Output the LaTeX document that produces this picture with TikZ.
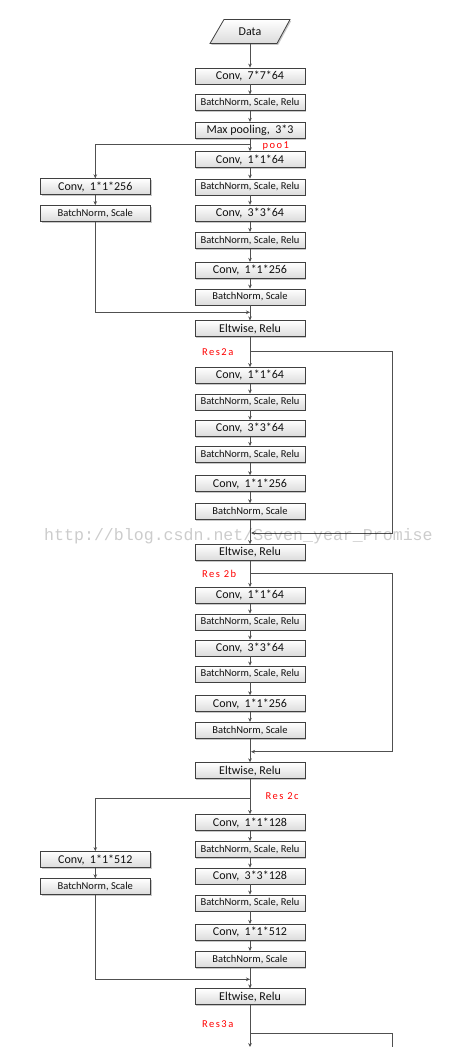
\documentclass[tikz,border=0pt]{standalone}
\usepackage{fontspec}
\usepackage{graphicx}
\setmainfont{Carlito}
\newfontfamily\redfont[LetterSpace=14]{Carlito}
\newfontfamily\wmfont{Liberation Mono}
\usetikzlibrary{arrows.meta,shadows}
\definecolor{linec}{HTML}{505050}
\definecolor{boxline}{HTML}{404040}
\definecolor{txt}{HTML}{111111}
\tikzset{
  blk/.style={draw=boxline, line width=0.8pt, top color=white, bottom color=black!14,
    minimum width=110pt, minimum height=16pt, inner sep=0pt, text=txt,
    drop shadow={shadow xshift=1.3pt, shadow yshift=-1.3pt, fill=black!30, opacity=0.7}},
  bigb/.style={blk, font=\fontsize{12}{14}\selectfont},
  smallb/.style={blk, font=\fontsize{10.5}{12}\selectfont},
  arr/.style={draw=linec, line width=0.8pt, -{Stealth[length=4pt,width=3.6pt]}},
  ln/.style={draw=linec, line width=0.8pt},
  lbl/.style={text=red, inner sep=0pt, anchor=west, font=\redfont\fontsize{10.5}{12}\selectfont}
}
\begin{document}
\begin{tikzpicture}[x=1pt,y=-1pt]
\path[use as bounding box, fill=white] (0,0) rectangle (459,1047);

% Data
\path[draw=boxline, line width=0.8pt, top color=white, bottom color=black!14,
  drop shadow={shadow xshift=1.3pt, shadow yshift=-1.3pt, fill=black!30, opacity=0.7}]
  (210,43.5) -- (224,19.5) -- (290,19.5) -- (277,43.5) -- cycle;
\node[inner sep=0pt, minimum height=24pt, text=txt, font=\fontsize{12}{14}\selectfont] (data) at (250,31.5) {Data};

% stem
\node[bigb]   (c0) at (250,76)    {Conv,~~7*7*64};
\node[smallb] (b0) at (250,102.8) {BatchNorm, Scale, Relu};
\node[bigb]   (mp) at (250,130.3) {Max pooling,~~3*3};
% res2a block
\node[bigb]   (c1) at (250,159.7) {Conv,~~1*1*64};
\node[smallb] (b1) at (250,187)   {BatchNorm, Scale, Relu};
\node[bigb]   (c2) at (250,213.2) {Conv,~~3*3*64};
\node[smallb] (b2) at (250,240.3) {BatchNorm, Scale, Relu};
\node[bigb]   (c3) at (250,270.3) {Conv,~~1*1*256};
\node[smallb] (b3) at (250,297)   {BatchNorm, Scale};
\node[bigb]   (e1) at (250,328.8) {Eltwise, Relu};
\node[bigb]   (lc1) at (95.3,186.7) {Conv,~~1*1*256};
\node[smallb] (lb1) at (95.3,213.5) {BatchNorm, Scale};
% res2b block
\node[bigb]   (c4) at (250,375.5) {Conv,~~1*1*64};
\node[smallb] (b4) at (250,402)   {BatchNorm, Scale, Relu};
\node[bigb]   (c5) at (250,428.3) {Conv,~~3*3*64};
\node[smallb] (b5) at (250,454.3) {BatchNorm, Scale, Relu};
\node[bigb]   (c6) at (250,483.7) {Conv,~~1*1*256};
\node[smallb] (b6) at (250,511.7) {BatchNorm, Scale};
\node[bigb]   (e2) at (250,552.5) {Eltwise, Relu};
% res2c block
\node[bigb]   (c7) at (250,595.3) {Conv,~~1*1*64};
\node[smallb] (b7) at (250,622)   {BatchNorm, Scale, Relu};
\node[bigb]   (c8) at (250,648)   {Conv,~~3*3*64};
\node[smallb] (b8) at (250,674)   {BatchNorm, Scale, Relu};
\node[bigb]   (c9) at (250,703.7) {Conv,~~1*1*256};
\node[smallb] (b9) at (250,730.3) {BatchNorm, Scale};
\node[bigb]   (e3) at (250,770.7) {Eltwise, Relu};
% res3a block
\node[bigb]   (c10) at (250,822.5) {Conv,~~1*1*128};
\node[smallb] (b10) at (250,849.5) {BatchNorm, Scale, Relu};
\node[bigb]   (c11) at (250,876)   {Conv,~~3*3*128};
\node[smallb] (b11) at (250,903)   {BatchNorm, Scale, Relu};
\node[bigb]   (c12) at (250,932.3) {Conv,~~1*1*512};
\node[smallb] (b12) at (250,959.3) {BatchNorm, Scale};
\node[bigb]   (e4) at (250,996.8)  {Eltwise, Relu};
\node[bigb]   (lc2) at (95.3,859.5) {Conv,~~1*1*512};
\node[smallb] (lb2) at (95.3,886.7) {BatchNorm, Scale};

% coordinates
\coordinate (p1) at (250,144);
\coordinate (j1) at (250,312.3);
\coordinate (r1) at (250,351);
\coordinate (r1e) at (392,351);
\coordinate (j2e) at (392,533);
\coordinate (j2) at (251,533);
\coordinate (r2) at (250,573.5);
\coordinate (r2e) at (392,573.5);
\coordinate (j3e) at (392,751.7);
\coordinate (j3) at (251,751.7);
\coordinate (p2) at (250,798.3);
\coordinate (j4) at (250,979.3);
\coordinate (r3) at (250,1033.3);
\coordinate (r3e) at (392,1033.3);
\coordinate (r3f) at (392,1047);
\coordinate (endm) at (250,1047);

% main chain
\draw[arr] (data) -- (c0);
\draw[arr] (c0) -- (b0);
\draw[arr] (b0) -- (mp);
\draw[arr] (mp) -- (c1);
\draw[arr] (c1) -- (b1);
\draw[arr] (b1) -- (c2);
\draw[arr] (c2) -- (b2);
\draw[arr] (b2) -- (c3);
\draw[arr] (c3) -- (b3);
\draw[arr] (b3) -- (e1);
\draw[arr] (p1) -| (lc1);
\draw[arr] (lc1) -- (lb1);
\draw[arr] (lb1) |- (j1);

\draw[arr] (e1) -- (c4);
\draw[arr] (c4) -- (b4);
\draw[arr] (b4) -- (c5);
\draw[arr] (c5) -- (b5);
\draw[arr] (b5) -- (c6);
\draw[arr] (c6) -- (b6);
\draw[arr] (b6) -- (e2);
\draw[arr] (r1) -- (r1e) -- (j2e) -- (j2);

\draw[arr] (e2) -- (c7);
\draw[arr] (c7) -- (b7);
\draw[arr] (b7) -- (c8);
\draw[arr] (c8) -- (b8);
\draw[arr] (b8) -- (c9);
\draw[arr] (c9) -- (b9);
\draw[arr] (b9) -- (e3);
\draw[arr] (r2) -- (r2e) -- (j3e) -- (j3);

\draw[arr] (e3) -- (c10);
\draw[arr] (c10) -- (b10);
\draw[arr] (b10) -- (c11);
\draw[arr] (c11) -- (b11);
\draw[arr] (b11) -- (c12);
\draw[arr] (c12) -- (b12);
\draw[arr] (b12) -- (e4);
\draw[arr] (p2) -| (lc2);
\draw[arr] (lc2) -- (lb2);
\draw[arr] (lb2) |- (j4);

\draw[arr] (e4) -- (endm);
\draw[ln] (r3) -- (r3e) -- (r3f);

% red labels
\node[lbl] (l0) at (262.5,145.8) {poo1};
\node[lbl] (l1) at (202,351.8) {Res2a};
\node[lbl] (l2) at (202,573.8) {Res 2b};
\node[lbl] (l3) at (265.5,795.8) {Res 2c};
\node[lbl] (l4) at (202,1024.3) {Res3a};

% watermark
\node[anchor=base west, inner sep=0pt, text=black, text opacity=0.2,
  font=\wmfont\fontsize{16.6}{18}\selectfont] (wm) at (44,540) {http://blog.csdn.net/Seven\_year\_Promise};
\end{tikzpicture}
\end{document}
